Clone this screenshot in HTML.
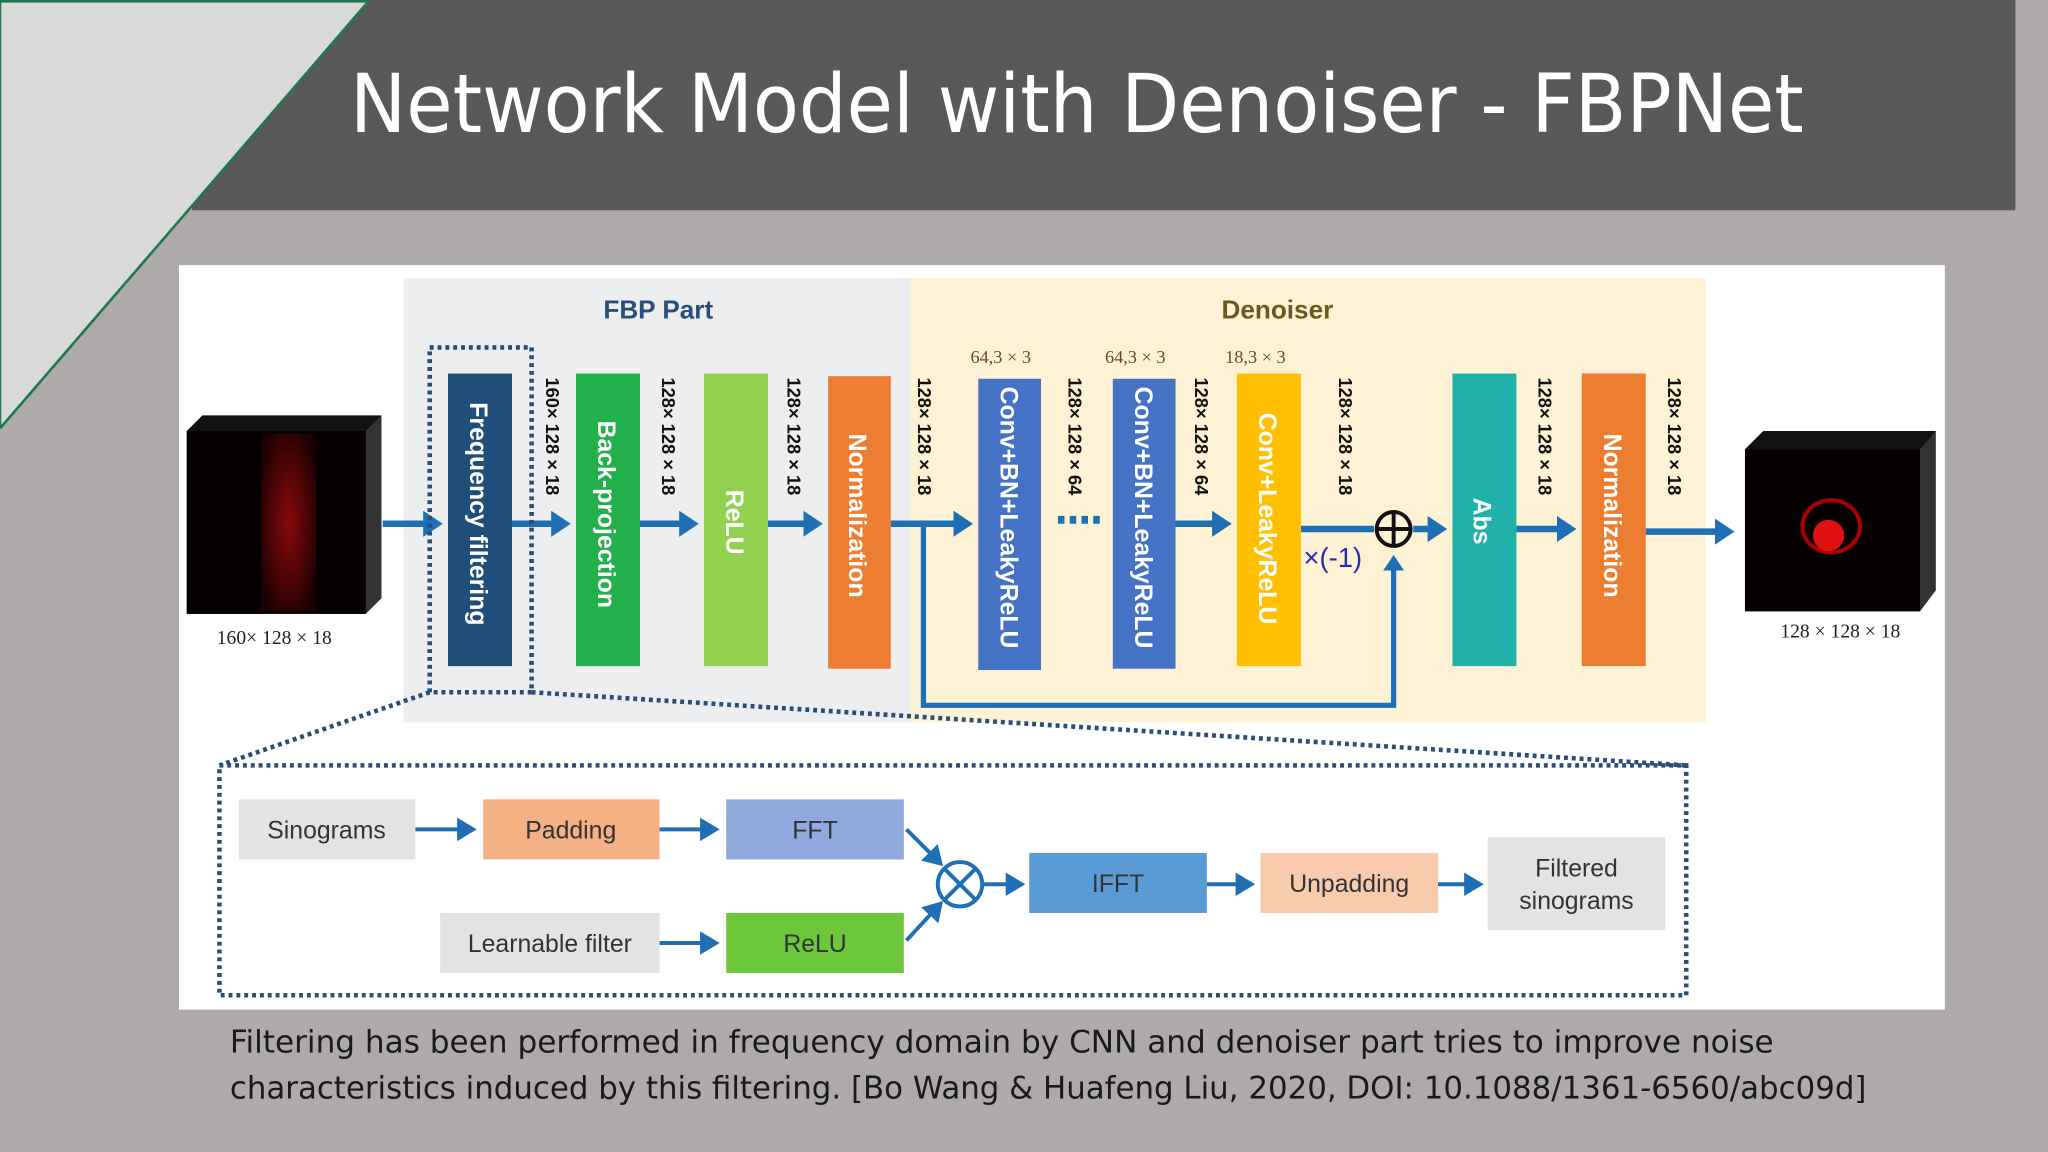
<!DOCTYPE html>
<html><head><meta charset="utf-8"><style>
html,body{margin:0;padding:0;width:2048px;height:1152px;overflow:hidden;background:#aeaaaa}
svg{display:block}
</style></head><body>
<svg width="2048" height="1152" viewBox="0 0 1568 882" xmlns="http://www.w3.org/2000/svg" font-family="Liberation Sans, sans-serif">
<defs>
<marker id="ah" markerWidth="4" markerHeight="4" refX="2.2" refY="2" orient="auto" markerUnits="strokeWidth"><path d="M0,0 L3,2 L0,4 z" fill="#1f6fb5"/></marker>
<marker id="as" markerWidth="6" markerHeight="6" refX="4" refY="3" orient="auto" markerUnits="strokeWidth"><path d="M0,0 L5,3 L0,6 z" fill="#1f6fb5"/></marker>
<radialGradient id="g1" cx="0.5" cy="0.5" r="0.6"><stop offset="0" stop-color="#8a0a0a"/><stop offset="1" stop-color="#1a0000"/></radialGradient>
</defs>
<rect width="1568" height="882" fill="#aeaaaa"/>
<rect x="147" y="0" width="1396" height="161" fill="#595959"/>
<polygon points="0,0 283,0 0,328" fill="#d9d9d9"/>
<line x1="283" y1="0" x2="0" y2="328" stroke="#1e7a4e" stroke-width="2"/>
<line x1="0" y1="0" x2="0" y2="328" stroke="#1e7a4e" stroke-width="2"/>
<line x1="0" y1="1" x2="283" y2="1" stroke="#1e7a4e" stroke-width="2"/>
<text x="268" y="101" font-size="62" fill="#fff" font-family="DejaVu Sans Condensed, DejaVu Sans, sans-serif" textLength="1113" lengthAdjust="spacingAndGlyphs">Network Model with Denoiser - FBPNet</text>

<rect x="137" y="203" width="1352" height="570" fill="#fff"/>
<rect x="309" y="213" width="388" height="340" fill="#eceeef"/>
<rect x="697" y="213" width="609" height="340" fill="#fdf2d4"/>
<text x="504" y="244" font-size="20" fill="#2a4e78" text-anchor="middle" font-weight="bold">FBP Part</text>
<text x="978" y="244" font-size="20" fill="#6b5a1e" text-anchor="middle" font-weight="bold">Denoiser</text>

<!-- input cube -->
<polygon points="143,330 155,318 292,318 292,458 280,470 143,470" fill="#111"/>
<polygon points="280,330 292,318 292,458 280,470" fill="#333"/>
<rect x="143" y="330" width="137" height="140" fill="#050000"/>
<rect x="200" y="332" width="42" height="136" fill="url(#g1)"/>
<text x="210" y="493" font-size="15" font-family="Liberation Serif, serif" text-anchor="middle" fill="#222">160× 128 × 18</text>
<!-- output cube -->
<polygon points="1336,344 1350,330 1482,330 1482,452 1470,468 1336,468" fill="#111"/>
<polygon points="1470,344 1482,330 1482,452 1470,468" fill="#333"/>
<rect x="1336" y="344" width="134" height="124" fill="#050000"/>
<ellipse cx="1402" cy="403" rx="22" ry="20" fill="none" stroke="#a00" stroke-width="3"/>
<circle cx="1400" cy="410" r="12" fill="#e01010"/>
<text x="1409" y="488" font-size="15" font-family="Liberation Serif, serif" text-anchor="middle" fill="#222">128 × 128 × 18</text>

<!-- main arrows -->
<g stroke="#1f6fb5" stroke-width="5" fill="none">
<line x1="293" y1="401" x2="335" y2="401" marker-end="url(#ah)"/>
<line x1="392" y1="401" x2="433" y2="401" marker-end="url(#ah)"/>
<line x1="490" y1="401" x2="531" y2="401" marker-end="url(#ah)"/>
<line x1="588" y1="401" x2="626" y2="401" marker-end="url(#ah)"/>
<line x1="682" y1="401" x2="741" y2="401" marker-end="url(#ah)"/>
<line x1="900" y1="401" x2="939" y2="401" marker-end="url(#ah)"/>
<line x1="996" y1="405" x2="1052" y2="405"/>
<line x1="1082" y1="405" x2="1104" y2="405" marker-end="url(#ah)"/>
<line x1="1161" y1="405" x2="1203" y2="405" marker-end="url(#ah)"/>
<line x1="1260" y1="407" x2="1324" y2="407" marker-end="url(#ah)"/>
<polyline points="707,401 707,540 1067,540 1067,428" stroke-width="4" marker-end="url(#ah)"/>
</g>
<line x1="810" y1="398" x2="842" y2="398" stroke="#1f6fb5" stroke-width="6" stroke-dasharray="5,4"/>
<circle cx="1067" cy="405" r="13" fill="#fdf2d4" stroke="#111" stroke-width="3"/>
<line x1="1054" y1="405" x2="1080" y2="405" stroke="#111" stroke-width="3"/>
<line x1="1067" y1="392" x2="1067" y2="418" stroke="#111" stroke-width="3"/>
<text x="998" y="434" font-size="21" fill="#2b2bb0">×(-1)</text>

<!-- blocks -->
<g>
<rect x="343" y="286" width="49" height="224" fill="#1f4e79"/>
<rect x="441" y="286" width="49" height="224" fill="#22b04a"/>
<rect x="539" y="286" width="49" height="224" fill="#92d050"/>
<rect x="634" y="288" width="48" height="224" fill="#ed7d31"/>
<rect x="749" y="290" width="48" height="223" fill="#4472c4"/>
<rect x="852" y="290" width="48" height="222" fill="#4472c4"/>
<rect x="947" y="286" width="49" height="224" fill="#ffc000"/>
<rect x="1112" y="286" width="49" height="224" fill="#20b2aa"/>
<rect x="1211" y="286" width="49" height="224" fill="#ed7d31"/>
</g>
<g font-size="19" fill="#fff" font-weight="bold">
<text transform="translate(360,308) rotate(90)">Frequency filtering</text>
<text transform="translate(458,322) rotate(90)">Back-projection</text>
<text transform="translate(556,375) rotate(90)">ReLU</text>
<text transform="translate(650,332) rotate(90)">Normalization</text>
<text transform="translate(766,296) rotate(90)">Conv+BN+LeakyReLU</text>
<text transform="translate(869,296) rotate(90)">Conv+BN+LeakyReLU</text>
<text transform="translate(964,316) rotate(90)">Conv+LeakyReLU</text>
<text transform="translate(1128,381) rotate(90)">Abs</text>
<text transform="translate(1228,332) rotate(90)">Normalization</text>
</g>
<g font-size="14" fill="#111" font-weight="bold">
<text transform="translate(418,289) rotate(90)">160× 128 × 18</text>
<text transform="translate(507,289) rotate(90)">128× 128 × 18</text>
<text transform="translate(603,289) rotate(90)">128× 128 × 18</text>
<text transform="translate(703,289) rotate(90)">128× 128 × 18</text>
<text transform="translate(818,289) rotate(90)">128× 128 × 64</text>
<text transform="translate(915,289) rotate(90)">128× 128 × 64</text>
<text transform="translate(1025,289) rotate(90)">128× 128 × 18</text>
<text transform="translate(1178,289) rotate(90)">128× 128 × 18</text>
<text transform="translate(1277,289) rotate(90)">128× 128 × 18</text>
</g>
<g font-size="14" fill="#6b4a1e" font-family="Liberation Serif, serif">
<text x="743" y="278">64,3 × 3</text>
<text x="846" y="278">64,3 × 3</text>
<text x="938" y="278">18,3 × 3</text>
</g>

<!-- dotted boxes -->
<g stroke="#2a4e78" stroke-width="3.5" fill="none" stroke-dasharray="3,3">
<rect x="329" y="266" width="78" height="264"/>
<rect x="168" y="586" width="1123" height="176"/>
<line x1="329" y1="530" x2="168" y2="586"/>
<line x1="407" y1="530" x2="1291" y2="586"/>
</g>

<!-- bottom flow -->
<g font-size="19" text-anchor="middle" fill="#333">
<rect x="183" y="612" width="135" height="46" fill="#e3e3e3"/><text x="250" y="642">Sinograms</text>
<rect x="370" y="612" width="135" height="46" fill="#f4b183"/><text x="437" y="642">Padding</text>
<rect x="556" y="612" width="136" height="46" fill="#8faadc"/><text x="624" y="642">FFT</text>
<rect x="337" y="699" width="168" height="46" fill="#e3e3e3"/><text x="421" y="729">Learnable filter</text>
<rect x="556" y="699" width="136" height="46" fill="#6cc83a"/><text x="624" y="729">ReLU</text>
<rect x="788" y="653" width="136" height="46" fill="#5b9bd5"/><text x="856" y="683">IFFT</text>
<rect x="965" y="653" width="136" height="46" fill="#f8cbad"/><text x="1033" y="683">Unpadding</text>
<rect x="1139" y="641" width="136" height="71" fill="#e3e3e3"/><text x="1207" y="671">Filtered</text><text x="1207" y="696">sinograms</text>
</g>
<g stroke="#1f6fb5" stroke-width="3" fill="none">
<line x1="318" y1="635" x2="362" y2="635" marker-end="url(#as)"/>
<line x1="505" y1="635" x2="548" y2="635" marker-end="url(#as)"/>
<line x1="505" y1="722" x2="548" y2="722" marker-end="url(#as)"/>
<line x1="694" y1="635" x2="720" y2="661" marker-end="url(#as)"/>
<line x1="694" y1="720" x2="720" y2="692" marker-end="url(#as)"/>
<line x1="753" y1="677" x2="782" y2="677" marker-end="url(#as)"/>
<line x1="924" y1="677" x2="958" y2="677" marker-end="url(#as)"/>
<line x1="1101" y1="677" x2="1133" y2="677" marker-end="url(#as)"/>
</g>
<circle cx="735" cy="677" r="17" fill="#fff" stroke="#1f6fb5" stroke-width="3"/>
<line x1="723" y1="665" x2="747" y2="689" stroke="#1f6fb5" stroke-width="3"/>
<line x1="747" y1="665" x2="723" y2="689" stroke="#1f6fb5" stroke-width="3"/>

<g font-size="24" fill="#1a1a1a" font-family="DejaVu Sans, sans-serif">
<text x="176" y="806" textLength="1182" lengthAdjust="spacingAndGlyphs">Filtering has been performed in frequency domain by CNN and denoiser part tries to improve noise</text>
<text x="176" y="841" textLength="1253" lengthAdjust="spacingAndGlyphs">characteristics induced by this filtering. [Bo Wang &amp; Huafeng Liu, 2020, DOI: 10.1088/1361-6560/abc09d]</text>
</g>
</svg>
</body></html>
